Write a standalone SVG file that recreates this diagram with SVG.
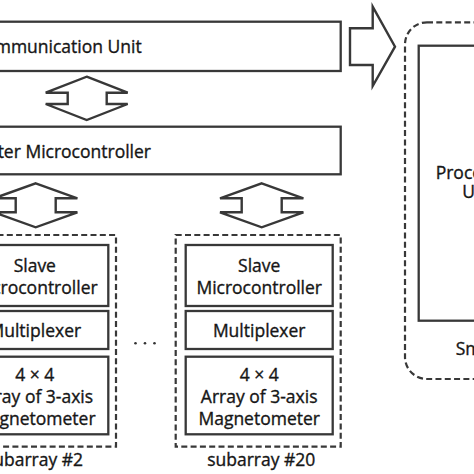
<svg xmlns="http://www.w3.org/2000/svg" width="474" height="474" viewBox="0 0 474 474">
<style>
.box{fill:#fff;stroke:#383838;stroke-width:2.3}
.dash{fill:none;stroke:#383838;stroke-width:2.2;stroke-dasharray:6 3.3}
.arr{fill:#fff;stroke:#383838;stroke-width:2.4;stroke-linejoin:miter}
text{font-family:"Open Sans","DejaVu Sans",sans-serif;font-size:17.5px;fill:#161616;stroke:#161616;stroke-width:0.35}
.m{text-anchor:middle}
.e{text-anchor:end}
</style>
<defs>
<polygon id="dbl" points="0,0 41.7,15 20,15 20,29 41.7,29 0,44 -41.7,29 -20,29 -20,15 -41.7,15"/>
</defs>
<rect width="474" height="474" fill="#fff"/>
<g id="connectors">
<polygon class="arr" points="86.7,76.7 127.7,92.7 106.7,92.7 106.7,104 127.7,104 86.7,120 45.7,104 67.7,104 67.7,92.7 45.7,92.7"/>
<use href="#dbl" class="arr" x="35.7" y="183.3"/>
<use href="#dbl" class="arr" x="261.7" y="183.3"/>
<polygon class="arr" points="350,28.3 372.7,28.3 372.7,6.7 395,46.7 372.7,86 372.7,65 350,65"/>
</g>
<g id="comm">
<rect class="box" x="-250" y="21.7" width="590.7" height="49.3"/>
<text class="e" x="141.7" y="53.3">Communication Unit</text>
</g>
<g id="master">
<rect class="box" x="-250" y="126.7" width="590.7" height="47.6"/>
<text class="e" x="151" y="157.7">Master Microcontroller</text>
</g>
<g id="subarray2">
<rect class="dash" x="-49" y="235" width="165" height="211.7"/>
<rect class="box" x="-38.7" y="245" width="147" height="61"/>
<rect class="box" x="-38.7" y="311" width="147" height="38"/>
<rect class="box" x="-38.7" y="356.7" width="147" height="77.6"/>
<text class="m" x="34.8" y="272.3">Slave</text>
<text class="m" x="34.8" y="294">Microcontroller</text>
<text class="m" x="34.8" y="337.3">Multiplexer</text>
<text class="m" x="34.8" y="380.7">4 × 4</text>
<text class="m" x="34.8" y="402.7">Array of 3-axis</text>
<text class="m" x="34.8" y="425">Magnetometer</text>
<text class="m" x="34" y="465.7">subarray #2</text>
</g>
<g id="dots">
<circle cx="135.5" cy="343.3" r="1.3" fill="#333"/>
<circle cx="145" cy="343.3" r="1.3" fill="#333"/>
<circle cx="154.5" cy="343.3" r="1.3" fill="#333"/>
</g>
<g id="subarray20">
<rect class="dash" x="175.7" y="235" width="165" height="211.7"/>
<rect class="box" x="185.7" y="245" width="147" height="61"/>
<rect class="box" x="185.7" y="311" width="147" height="38"/>
<rect class="box" x="185.7" y="356.7" width="147" height="77.6"/>
<text class="m" x="259.2" y="272.3">Slave</text>
<text class="m" x="259.2" y="294">Microcontroller</text>
<text class="m" x="259.2" y="337.3">Multiplexer</text>
<text class="m" x="259.2" y="380.7">4 × 4</text>
<text class="m" x="259.2" y="402.7">Array of 3-axis</text>
<text class="m" x="259.2" y="425">Magnetometer</text>
<text class="m" x="261.3" y="465.7">subarray #20</text>
</g>
<g id="smartphone">
<rect class="dash" x="405" y="22.3" width="200" height="356.7" rx="22" ry="22"/>
<text x="455.7" y="355">Smartphone</text>
</g>
<g id="processing">
<rect class="box" x="418.7" y="45.7" width="120" height="275"/>
<text x="435.7" y="179.3">Processing</text>
<text x="462.3" y="197.5">Unit</text>
</g>
</svg>
